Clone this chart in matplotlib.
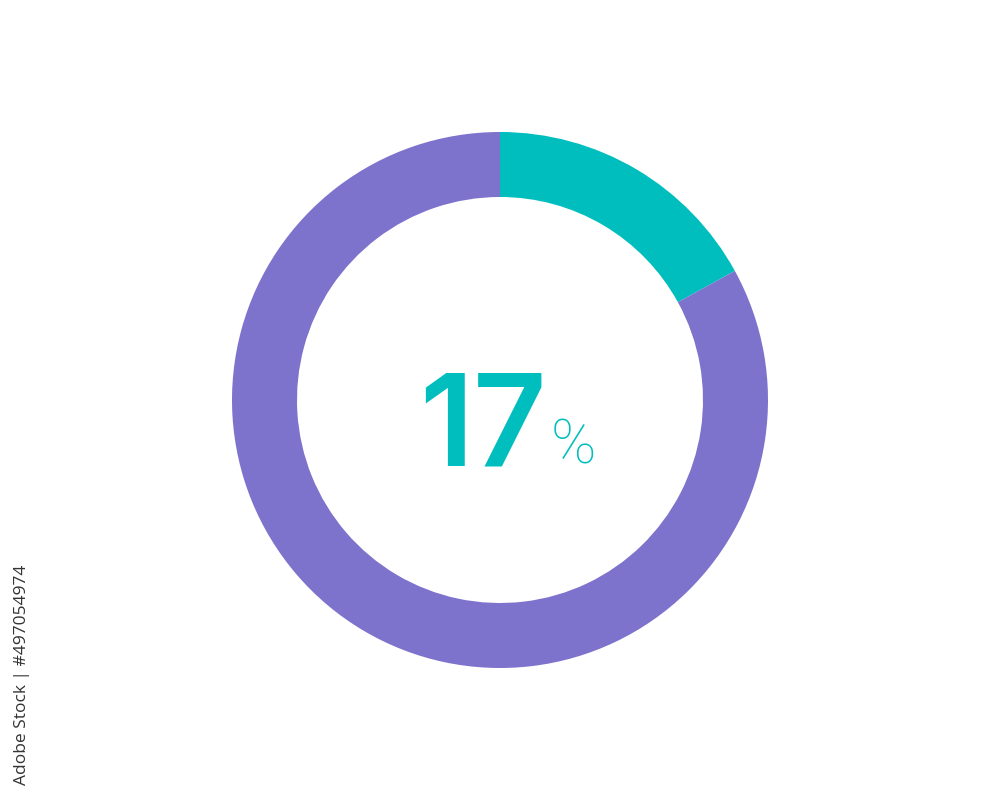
import matplotlib
matplotlib.use("Agg")
from matplotlib import pyplot as plt

# share of the ring
labels = ["done", "rest"]
values = [17, 83]
colors = ["#00BEBE", "#7D72CC"]
center_value = "17"
center_unit = "%"
side_note = "Adobe Stock | #497054974"

fig = plt.figure(figsize=(10, 8), dpi=100)
ax = fig.add_axes([0, 0, 1, 1])

# donut: starts at the top, goes clockwise
ax.pie(values, colors=colors, startangle=90, counterclock=False,
       center=(500, 400), radius=268, frame=True,
       wedgeprops=dict(width=65, edgecolor="none"))
ax.set_xlim(0, 1000)
ax.set_ylim(0, 800)
ax.set_aspect("equal")
ax.axis("off")

# number in the middle
ax.text(483, 335, center_value, fontsize=92, fontfamily="Inter",
        fontweight="semibold", color=colors[0], ha="center", va="baseline")
ax.text(573, 337, center_unit, fontsize=44, fontfamily="Roboto",
        fontweight="light", color=colors[0], ha="center", va="baseline")

# stock id on the left edge
ax.text(22, 125, side_note, fontsize=12.5, fontfamily="Open Sans",
        color="#333333", rotation=90, ha="center", va="center")

fig.savefig("out.png", dpi=100, facecolor="white")
